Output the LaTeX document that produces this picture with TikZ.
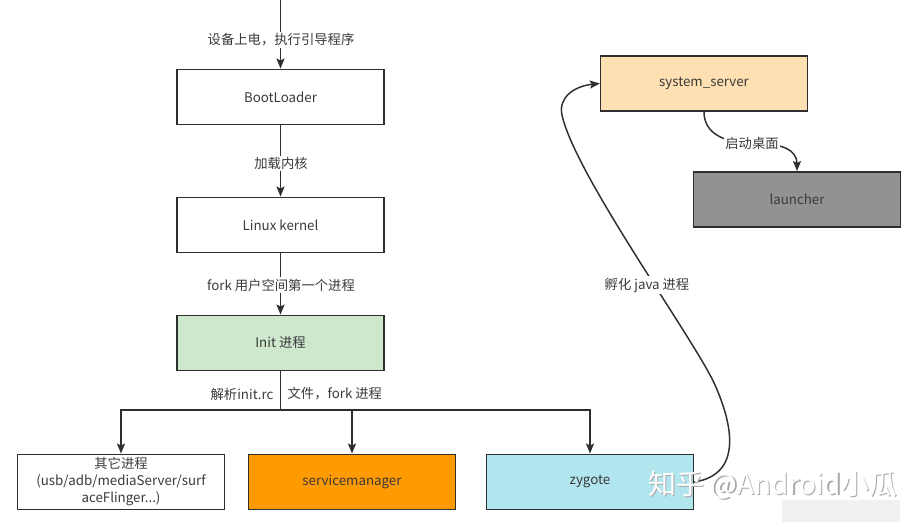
\documentclass[tikz,border=0pt]{standalone}
\usepackage{fontspec}
\setmainfont{Noto Sans CJK SC}
\usetikzlibrary{arrows.meta}
\definecolor{linec}{HTML}{2E2E2E}
\definecolor{textc}{HTML}{3A3A3A}
\definecolor{initfill}{HTML}{CDE8CC}
\definecolor{smfill}{HTML}{FF9A00}
\definecolor{zygfill}{HTML}{B2E6EE}
\definecolor{ssfill}{HTML}{FFE0B2}
\definecolor{lafill}{HTML}{929292}
\definecolor{wmshadow}{HTML}{A8A8A8}
\definecolor{wmrect}{HTML}{F1F1F1}
\begin{document}
\begin{tikzpicture}[x=0.75pt,y=-0.75pt,
  font=\fontsize{10}{12.75}\selectfont,
  box/.style={draw=linec, line width=1.2pt, minimum width=155pt, minimum height=41.5pt, inner sep=0pt, text=textc, align=center},
  lbl/.style={text=textc, inner sep=1pt},
  conn/.style={draw=linec, line width=1.1pt},
  arr/.style={conn, -{Stealth[length=7.5pt,width=6pt,inset=1.5pt]}},
  wm/.style={font=\fontsize{21}{24}\selectfont, inner sep=0pt, anchor=west}]
\useasboundingbox (0,0) rectangle (912,526);

% boxes
\node[box] (boot) at (280.5,97) {BootLoader};
\node[box] (kernel) at (280.5,225) {Linux kernel};
\node[box, fill=initfill] (init) at (280.5,343) {Init 进程};
\node[box] (other) at (121,482) {其它进程\\(usb/adb/mediaServer/surf\\aceFlinger...)};
\node[box, fill=smfill] (sm) at (352,482) {servicemanager};
\node[box, fill=zygfill] (zyg) at (590,482) {zygote};
\node[box, fill=ssfill] (ss) at (704,83.5) {system\_server};
\node[box, fill=lafill] (launch) at (797,199.5) {launcher};

% vertical chain
\coordinate (top) at (280.5,0);
\draw[arr] (top) -- (boot);
\node[lbl, fill=white] (l1) at (281,40) {设备上电，执行引导程序};
\draw[arr] (boot) -- (kernel);
\node[lbl, fill=white] (l2) at (281,163) {加载内核};
\draw[arr] (kernel) -- (init);
\node[lbl, fill=white] (l3) at (281,285) {fork 用户空间第一个进程};

% split
\coordinate (split) at (280.5,410);
\draw[conn] (init) -- (split);
\draw[arr] (split) -| (other);
\draw[arr] (split) -| (sm);
\draw[arr] (split) -| (zyg);
\node[lbl, anchor=east] (l4a) at (275,394) {解析init.rc};
\node[lbl, anchor=west] (l4b) at (286,394) {文件，fork 进程};

% zygote -> system_server
\draw[arr] (zyg.east) .. controls (740,475) and (735,430) .. (715,385)
  .. controls (695,340) and (575,175) .. (562,115)
  .. controls (558,97) and (575,86) .. (ss.west);
\node[lbl, fill=white] (l5) at (647,285) {孵化 java 进程};

% system_server -> launcher
\draw[arr] (ss.south) .. controls (704,132) and (722,143) .. (752,143)
  .. controls (782,143) and (797,150) .. (launch.north);
\node[lbl, fill=white] (l6) at (752,143) {启动桌面};

% watermark
\fill[wmrect] (782,500) rectangle (900,522);
\node[wm, text=wmshadow] (wms) at (649.5,486.5) {知乎 @Android小瓜};
\node[wm, text=white] (wmt) at (648,485) {知乎 @Android小瓜};
\end{tikzpicture}
\end{document}
